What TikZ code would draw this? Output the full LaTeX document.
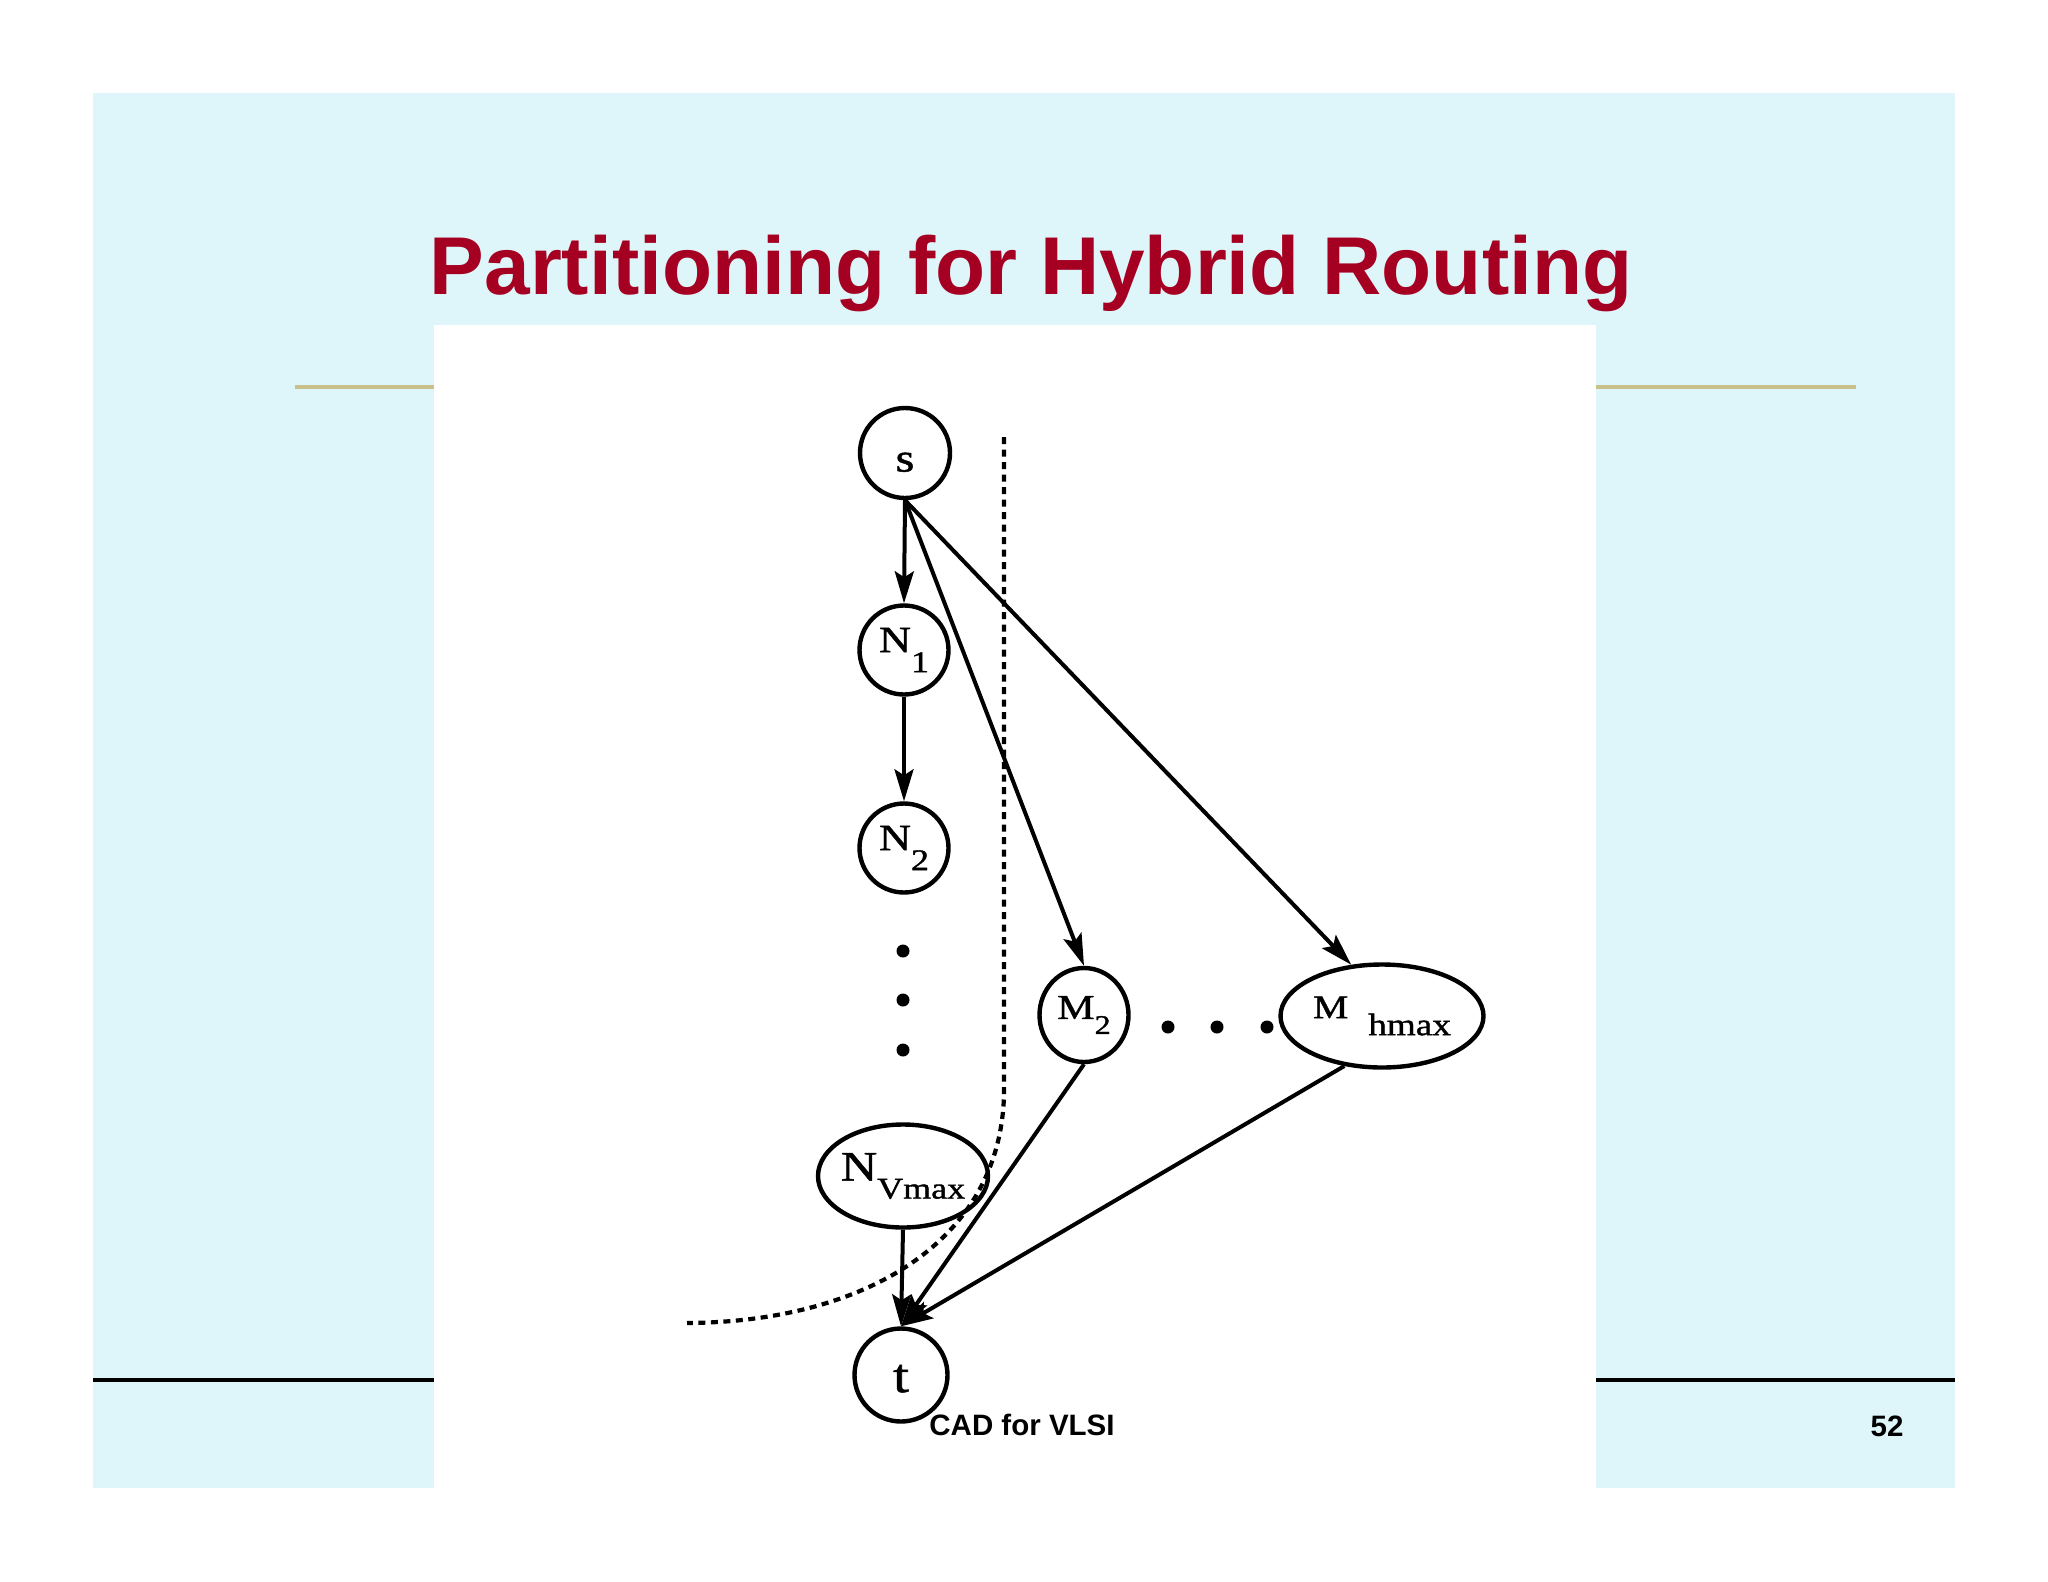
\documentclass[tikz,border=0pt]{standalone}
\usepackage{fontspec}
\setmainfont{Liberation Serif}
\newfontfamily\sansf{Liberation Sans}
\newfontfamily\scan[FakeStretch=1.2,FakeBold=1.2]{Liberation Serif}
\usetikzlibrary{arrows.meta,shapes.geometric}
\definecolor{slidebg}{RGB}{222,246,250}
\definecolor{ruleolive}{RGB}{200,193,140}
\definecolor{titlered}{RGB}{165,0,33}
\newcommand{\setfs}[1]{\fontsize{#1}{#1}\selectfont}
\begin{document}
\begin{tikzpicture}[x=1pt,y=-1pt,
  circnode/.style={circle,draw=black,line width=4.4pt,inner sep=0pt,minimum size=#1,font=\scan},
  ellnode/.style 2 args={ellipse,draw=black,line width=4.4pt,inner sep=0pt,minimum width=#1,minimum height=#2,font=\scan},
  dotnode/.style={circle,fill=black,inner sep=0pt,minimum size=13pt},
  conn/.style={line width=4pt,-{Stealth[length=32pt,width=19pt,inset=6pt]}},
  cutline/.style={line width=4.2pt,dash pattern=on 7pt off 5.5pt},
  slidetext/.style={anchor=base,font=\sansf\bfseries\setfs{29.5}}
]
\useasboundingbox (0,0) rectangle (2048,1582);
\fill[white] (0,0) rectangle (2048,1582);
% slide background
\fill[slidebg] (93,93) rectangle (1955,1488);
\draw[ruleolive,line width=4pt] (295,387) -- (1856,387);
\draw[black,line width=4pt] (93,1380) -- (1955,1380);
\fill[white] (434,325) rectangle (1596,1488);
\node[anchor=base,text=titlered,font=\sansf\bfseries\setfs{82}] (title) at (1031,294) {Partitioning for Hybrid Routing};

% graph nodes
\node[circnode=90,text height=37pt,text depth=0pt] (s) at (905,453) {\setfs{40}s};
\node[circnode=89] (N1) at (904,650) {\setfs{37}N\raisebox{-20pt}{\setfs{30}1}};
\node[circnode=89] (N2) at (904,848) {\setfs{37}N\raisebox{-20pt}{\setfs{30}2}};
\node[dotnode] (vd1) at (903,951) {};
\node[dotnode] (vd2) at (903,1000) {};
\node[dotnode] (vd3) at (903,1050) {};
\node[ellnode={170}{103},inner xsep=-8pt] (NV) at (903,1176) {\setfs{42}N\raisebox{-18pt}{\setfs{30}Vmax}};
\node[circnode=93,text height=34pt,text depth=0pt] (t) at (901,1375) {\setfs{48}t};
\node[ellnode={89}{94}] (M2) at (1084,1015) {\setfs{35}M\raisebox{-15pt}{\setfs{27}2}};
\node[ellnode={203}{103},inner xsep=-6pt] (Mh) at (1382,1016) {\setfs{33}M\hspace{20pt}\raisebox{-17pt}{\setfs{31}hmax}};
\node[dotnode] (hd1) at (1168,1027) {};
\node[dotnode] (hd2) at (1217,1027) {};
\node[dotnode] (hd3) at (1267,1027) {};

% edges
\draw[conn] (s.south) -- (N1.north);
\draw[conn] (N1.south) -- (N2.north);
\draw[conn] (s.south) -- (M2.north);
\draw[conn] (s.south) -- (Mh.121);
\draw[conn] (NV.south) -- (t.north);
\draw[conn] (M2.south) -- (t.north);
\draw[conn] (Mh.233) -- (t.north);

% partition cut
\coordinate (cutTop) at (1004,437);
\coordinate (cutBend) at (1004,1095);
\coordinate (cutEnd) at (687,1323);
\draw[cutline] (cutTop) -- (cutBend) .. controls (1000,1245) and (860,1322) .. (cutEnd);

% footer
\node[slidetext] (footer) at (1022,1435) {CAD for VLSI};
\node[slidetext] (pagenum) at (1887,1436) {52};
\end{tikzpicture}
\end{document}
